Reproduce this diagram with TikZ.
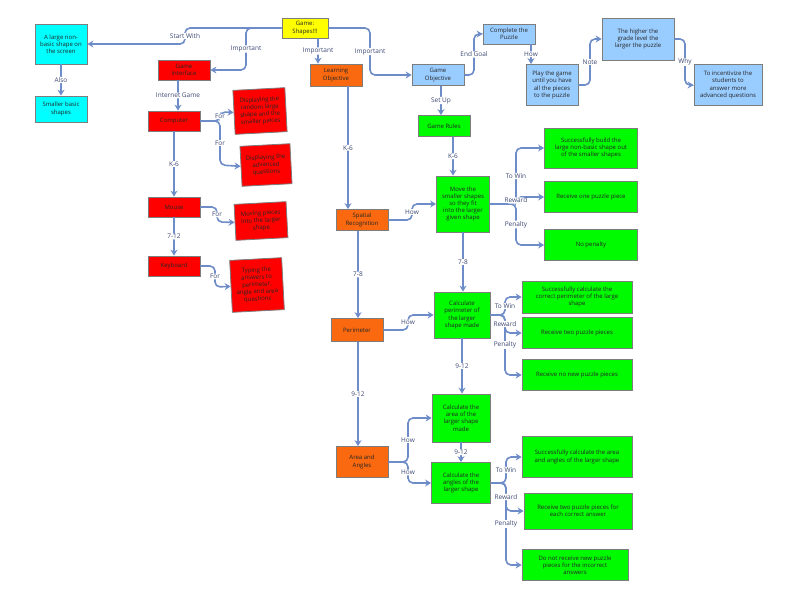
\documentclass[tikz,border=0pt]{standalone}
\usepackage{fontspec}
\setmainfont{Open Sans}
\usepackage{tikz}
\usetikzlibrary{arrows.meta}
\usetikzlibrary{positioning}
\usetikzlibrary{calc}
\definecolor{boxline}{RGB}{125,125,125}
\definecolor{linkblue}{RGB}{110,140,200}
\definecolor{lbltext}{RGB}{60,72,115}
\tikzstyle{box}=[draw=boxline,line width=0.8pt,align=center,inner sep=1pt,font=\fontsize{6}{7.2}\selectfont,text=black!85]
\tikzstyle{lbl}=[fill=white,inner sep=0.6pt,font=\fontsize{6.5}{7}\selectfont,text=lbltext]

\begin{document}
\begin{tikzpicture}[
  x=1pt,y=-1pt,
  link/.style={draw=linkblue,line width=1.6pt,rounded corners=5pt,-{Stealth[length=6pt,width=7pt,inset=2pt]}},
  sz/.style 2 args={minimum width=#1pt,minimum height=#2pt},
  yellowbox/.style={box,fill=boxyellow},
  cyanbox/.style={box,fill=boxcyan},
  redbox/.style={box,fill=boxred},
  tilted/.style={redbox,rotate=3},
  orangebox/.style={box,fill=boxorange},
  bluebox/.style={box,fill=boxblue},
  greenbox/.style={box,fill=boxgreen},
]
  \definecolor{boxyellow}{RGB}{255,255,0}
  \definecolor{boxcyan}{RGB}{0,255,255}
  \definecolor{boxred}{RGB}{255,0,0}
  \definecolor{boxorange}{RGB}{250,105,15}
  \definecolor{boxblue}{RGB}{153,204,255}
  \definecolor{boxgreen}{RGB}{0,250,0}
  \useasboundingbox (0,0) rectangle (800,600);

  % top and left part
  \node[yellowbox,sz={46}{20}] (game) at (305,28) {Game:\\Shapes!!!};
  \node[cyanbox,sz={52}{40}] (bigshape) at (61,44) {A large non-\\basic shape on\\the screen};
  \node[cyanbox,sz={52}{26}] (smallshapes) at (61,109) {Smaller basic\\shapes};
  \node[redbox,sz={52}{20}] (iface) at (184,70) {Game\\Interface};
  \node[redbox,sz={52}{20}] (comp) at (174,121) {Computer};
  \node[tilted,sz={52}{44}] (dispa) at (260,111) {Displaying the\\random large\\shape and the\\smaller pieces};
  \node[tilted,sz={50}{40}] (dispb) at (266,165) {Displaying the\\advanced\\questions};
  \node[redbox,sz={52}{20}] (mouse) at (174,207) {Mouse};
  \node[tilted,sz={52}{36}] (movep) at (261,221) {Moving pieces\\into the larger\\shape};
  \node[redbox,sz={52}{20}] (keyb) at (174,266) {Keyboard};
  \node[tilted,sz={52}{52}] (typing) at (257,285) {Typing the\\answers to\\perimeter,\\angle and area\\questions};

  % objectives
  \node[orangebox,sz={52}{22}] (lobj) at (336,75) {Learning\\Objective};
  \node[bluebox,sz={52}{21}] (gobj) at (438,75) {Game\\Objective};
  \node[bluebox,sz={52}{20}] (goal) at (509,34) {Complete the\\Puzzle};
  \node[bluebox,sz={52}{41}] (play) at (552,85) {Play the game\\until you have\\all the pieces\\to the puzzle};
  \node[bluebox,sz={72}{42}] (higher) at (638,39) {The higher the\\grade level the\\larger the puzzle};
  \node[bluebox,sz={68}{41}] (why) at (728,85) {To incentivize the\\students to\\answer more\\advanced questions};
  \node[greenbox,sz={52}{21}] (rules) at (444,126) {Game Rules};

  % grade levels
  \node[orangebox,sz={52}{21}] (spatial) at (362,220) {Spatial\\Recognition};
  \node[greenbox,sz={53}{56}] (moves) at (463,204) {Move the\\smaller shapes\\so they fit\\into the larger\\given shape};
  \node[greenbox,sz={93}{40}] (winA) at (591,148) {Successfully build the\\large non-basic shape out\\of the smaller shapes};
  \node[greenbox,sz={93}{31}] (rewA) at (591,197) {Receive one puzzle piece};
  \node[greenbox,sz={93}{31}] (penA) at (591,245) {No penalty};

  \node[orangebox,sz={52}{23}] (perim) at (357,330) {Perimeter};
  \node[greenbox,sz={56}{46}] (calcp) at (462,315) {Calculate\\perimeter of\\the larger\\shape made};
  \node[greenbox,sz={110}{32}] (winB) at (577,297) {Successfully calculate the\\correct perimeter of the large\\shape};
  \node[greenbox,sz={110}{31}] (rewB) at (577,333) {Receive two puzzle pieces};
  \node[greenbox,sz={110}{31}] (penB) at (577,375) {Receive no new puzzle pieces};

  \node[orangebox,sz={52}{31}] (areaang) at (362,462) {Area and\\Angles};
  \node[greenbox,sz={58}{48}] (calca) at (461,418) {Calculate the\\area of the\\larger shape\\made};
  \node[greenbox,sz={59}{41}] (calcang) at (461,483) {Calculate the\\angles of the\\larger shape};
  \node[greenbox,sz={110}{41}] (winC) at (577,457) {Successfully calculate the area\\and angles of the larger shape};
  \node[greenbox,sz={108}{36}] (rewC) at (578,511) {Receive two puzzle pieces for\\each correct answer};
  \node[greenbox,sz={106}{31}] (penC) at (575,565) {Do not receive new puzzle\\pieces for the incorrect\\answers};

  % connectors
  \draw[link] (game.west) -| node[lbl,pos=0.75] {Start With} (185,44) -- (bigshape.east);
  \draw[link] (game.west) -| node[lbl,pos=0.75] {Important} (246,70) -- (iface.east);
  \draw[link] ([xshift=13pt]game.south) -- node[lbl] {Important} ([xshift=-18pt]lobj.north);
  \draw[link] (game.east) -| node[lbl,pos=0.75] {Important} (370,75) -- (gobj.west);
  \draw[link] (bigshape) -- node[lbl] {Also} (smallshapes);

  \draw[link] ([xshift=-6pt]iface.south) -- node[lbl] {Internet Game} ([xshift=4pt]comp.north);
  \draw[link] (comp.east) -| node[lbl,pos=0.75] {For} (220,165) -- (dispb.west);
  \draw[link] (comp.east) -| node[lbl,pos=0.75] {For} (220,112) -- (dispa.west);
  \draw[link] (comp) -- node[lbl] {K-6} (mouse);
  \draw[link] (mouse.east) -| node[lbl,pos=0.75] {For} (217,222) -- (movep.west);
  \draw[link] (mouse) -- node[lbl] {7-12} (keyb);
  \draw[link] (keyb.east) -| node[lbl,pos=0.75] {For} (215,287) -- (typing.west);

  \draw[link] (gobj.east) -| node[lbl,pos=0.75] {End Goal} (474,34) -- (goal.west);
  \draw[link] ([xshift=22pt]goal.south) -- node[lbl] {How} ([xshift=-21pt]play.north);
  \draw[link] (play.east) -| node[lbl,pos=0.75] {Note} (590,39) -- (higher.west);
  \draw[link] (higher.east) -| node[lbl,pos=0.75] {Why} (685,85) -- (why.west);
  \draw[link] ([xshift=3pt]gobj.south) -- node[lbl] {Set Up} ([xshift=-3pt]rules.north);
  \draw[link] ([xshift=9pt]rules.south) -- node[lbl] {K-6} ([xshift=-10pt]moves.north);

  \draw[link] ([xshift=12pt]lobj.south) -- node[lbl] {K-6} ([xshift=-14pt]spatial.north);
  \draw[link] ([xshift=-4pt]spatial.south) -- node[lbl] {7-8} ([xshift=1pt]perim.north);
  \draw[link] ([xshift=1pt]perim.south) -- node[lbl] {9-12} ([xshift=-4pt]areaang.north);

  \draw[link] (spatial.east) -| node[lbl,pos=0.75] {How} (412,204) -- (moves.west);
  \draw[link] (moves.east) -| node[lbl,pos=0.75] {To Win} (516,148) -- (winA.west);
  \draw[link] (moves.east) -| node[lbl,pos=0.75] {Penalty} (516,245) -- (penA.west);
  \draw[link] (moves.east) -| node[lbl,pos=0.75] {Reward} (516,197) -- (rewA.west);
  \draw[link] (moves.south) -- node[lbl] {7-8} (moves.south |- calcp.north);

  \draw[link] (perim.east) -| node[lbl,pos=0.75] {How} (408,315) -- (calcp.west);
  \draw[link] (calcp.east) -| node[lbl,pos=0.75] {To Win} (505,297) -- (winB.west);
  \draw[link] (calcp.east) -| node[lbl,pos=0.75] {Penalty} (505,375) -- (penB.west);
  \draw[link] (calcp.east) -| node[lbl,pos=0.75] {Reward} (505,333) -- (rewB.west);
  \draw[link] (calcp.south) -- node[lbl] {9-12} (calcp.south |- calca.north);

  \draw[link] (areaang.east) -| node[lbl,pos=0.75] {How} (408,418) -- (calca.west);
  \draw[link] (areaang.east) -| node[lbl,pos=0.75] {How} (408,483) -- (calcang.west);
  \draw[link] (calca.south) -- node[lbl] {9-12} (calca.south |- calcang.north);
  \draw[link] (calcang.east) -| node[lbl,pos=0.75] {To Win} (506,457) -- (winC.west);
  \draw[link] (calcang.east) -| node[lbl,pos=0.75] {Penalty} (506,565) -- (penC.west);
  \draw[link] (calcang.east) -| node[lbl,pos=0.75] {Reward} (506,511) -- (rewC.west);
\end{tikzpicture}
\end{document}
